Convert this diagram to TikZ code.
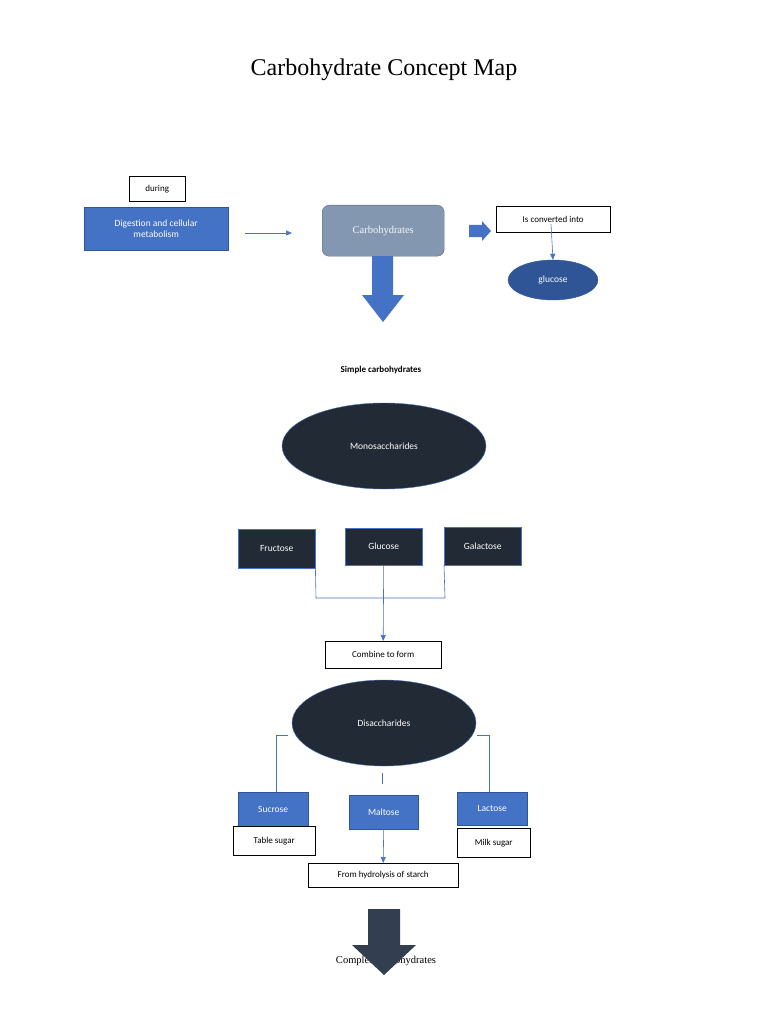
\documentclass[tikz,border=0pt]{standalone}
\usepackage{fontspec}
\setmainfont{Carlito}
\newfontfamily\serif{Liberation Serif}
\usetikzlibrary{arrows.meta}
\definecolor{mblue}{HTML}{4472C4}
\definecolor{dblue}{HTML}{2F5597}
\definecolor{slate}{HTML}{8497B0}
\definecolor{navy}{HTML}{222A35}
\definecolor{darkarrow}{HTML}{333F50}
\begin{document}
\begin{tikzpicture}[x=1pt,y=-1pt,
  lbl/.style={draw=black,fill=white,font=\fontsize{9}{10}\selectfont,inner sep=0pt,anchor=north west},
  bluebox/.style={draw=dblue,fill=mblue,text=white,font=\fontsize{9.5}{11}\selectfont,inner sep=0pt,anchor=north west,align=center},
  darkbox/.style={draw=mblue,fill=navy,text=white,font=\fontsize{9.5}{11}\selectfont,inner sep=0pt,anchor=north west},
  oval/.style={ellipse,draw=mblue,fill=navy,text=white,font=\fontsize{9.5}{11}\selectfont,inner sep=0pt},
  conn/.style={draw=mblue,line width=0.6pt},
  thin/.style={conn,-{Triangle[length=6pt,width=5pt]}}]
\useasboundingbox (0,0) rectangle (768,1024);
\usetikzlibrary{shapes.geometric}
\node (title) at (384,70) {\serif\fontsize{24}{28}\selectfont Carbohydrate Concept Map};
% top row
\node[lbl,minimum width=56pt,minimum height=25pt] (during) at (129,176) {during};
\node[bluebox,minimum width=144pt,minimum height=43pt] (dig) at (84,207) {Digestion and cellular\\metabolism};
\node[draw=slate!70!black,fill=slate,rounded corners=7pt,text=white!92!slate,minimum width=122pt,minimum height=51pt,anchor=north west,inner sep=0pt,font=\serif\fontsize{10.5}{12}\selectfont] (carb) at (322,205) {Carbohydrates};
\node[lbl,minimum width=114pt,minimum height=26pt] (conv) at (496,206) {Is converted into};
\node[ellipse,fill=dblue,draw=dblue,text=white,minimum width=90pt,minimum height=40pt,inner sep=0pt,font=\fontsize{9.5}{11}\selectfont] (glu) at (553,280) {glucose};
\coordinate (a1) at (245,233);
\coordinate (a2) at (292,233);
\draw[thin] (a1) -- (a2);
\coordinate (c1) at (551,224);
\draw[thin] (c1) -- (glu.north);
\fill[mblue] (469,225) -- (482,225) -- (482,221) -- (491,231) -- (482,241) -- (482,237) -- (469,237) -- cycle;
\fill[mblue] (372,256) -- (393,256) -- (393,295) -- (404,295) -- (383,322) -- (362,295) -- (372,295) -- cycle;
% simple
\node[font=\bfseries\fontsize{9}{10}\selectfont] (simple) at (381,370) {Simple carbohydrates};
\node[oval,minimum width=204pt,minimum height=86pt] (mono) at (384,446) {Monosaccharides};
\node[darkbox,minimum width=77pt,minimum height=39pt] (fru) at (238,529) {Fructose};
\node[darkbox,minimum width=77pt,minimum height=37pt] (glc) at (345,528) {Glucose};
\node[darkbox,minimum width=77pt,minimum height=38pt] (gal) at (444,527) {Galactose};
\node[lbl,minimum width=116pt,minimum height=27pt] (comb) at (325,641) {Combine to form};
\coordinate (j1) at (316,598);
\coordinate (j2) at (445,598);
\draw[conn] (fru.south east) ++(-0pt,0) -- (j1) -- (j2) -- (gal.south west);
\coordinate (j3) at (381,598);
\draw[thin] (glc.south) -- (comb.north);
% disaccharides
\node[oval,minimum width=184pt,minimum height=86pt] (dis) at (384,723) {Disaccharides};
\node[bluebox,minimum width=70pt,minimum height=34pt] (suc) at (238,792) {Sucrose};
\node[bluebox,minimum width=69pt,minimum height=34pt] (mal) at (349,795) {Maltose};
\node[bluebox,minimum width=70pt,minimum height=33pt] (lac) at (457,792) {Lactose};
\node[lbl,minimum width=82pt,minimum height=29pt] (tab) at (233,826) {Table sugar};
\node[lbl,minimum width=73pt,minimum height=29pt] (milk) at (457,828) {Milk sugar};
\node[lbl,minimum width=150pt,minimum height=24pt] (hyd) at (308,863) {From hydrolysis of starch};
\coordinate (l1) at (288,735);
\coordinate (l2) at (276,735);
\draw[conn] (l1) -- (l2) -- (l2 |- suc.north);
\coordinate (r1) at (477,735);
\coordinate (r2) at (489,735);
\draw[conn] (r1) -- (r2) -- (r2 |- lac.north);
\coordinate (m1) at (382,773);
\coordinate (m2) at (382,784);
\draw[conn] (m1) -- (m2);
\draw[thin] (mal.south) -- (hyd.north);
% complex
\node (complex) at (386,961) {\serif\fontsize{10.5}{12}\selectfont Complex carbohydrates};
\fill[darkarrow] (368,909) -- (400,909) -- (400,945) -- (416,945) -- (384,975) -- (352,945) -- (368,945) -- cycle;
\end{tikzpicture}
\end{document}
